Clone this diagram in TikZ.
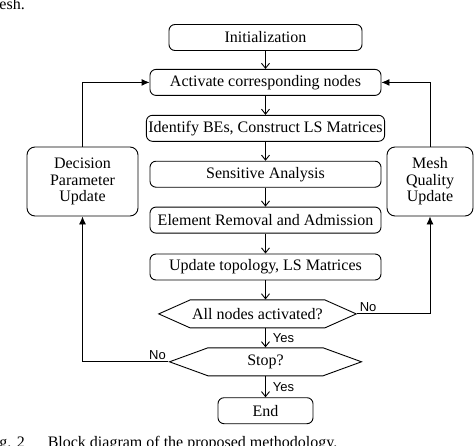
\documentclass[tikz,border=0pt]{standalone}
\usepackage{fontspec}
\setmainfont{Liberation Serif}
\newfontfamily\lblfont{Liberation Sans}
\usetikzlibrary{positioning,arrows.meta,shapes.symbols}

\begin{document}
\begin{tikzpicture}[
  x=1pt,y=1pt,
  line width=0.9pt,
  font=\fontsize{16}{16.5}\selectfont,
  node distance=19pt,
  b/.style={draw,rounded corners=6pt,align=center,minimum width=231pt,minimum height=26pt,inner ysep=2pt},
  s/.style={draw,rounded corners=8pt,align=center,minimum height=69pt,inner xsep=3pt},
  q/.style={draw,signal,signal to=west and east,minimum width=192pt,minimum height=28pt,inner xsep=2pt,inner ysep=2pt},
  a/.style={-{Straight Barb[length=5pt,width=8pt]}},
  l/.style={-{Latex[length=8pt,width=7pt]}},
  lab/.style={font=\lblfont\fontsize{13}{13}\selectfont,inner sep=2pt},
]
  \useasboundingbox (0,0) rectangle (474,-445);

  \node[b,minimum width=193pt] (init) at (265.5,-37.5) {Initialization};
  \node[b,below=18pt of init] (act) {Activate corresponding nodes};
  \node[b,below=of act,inner xsep=2pt] (ident) {Identify BEs, Construct LS Matrices};
  \node[b,below=of ident] (sens) {Sensitive Analysis};
  \node[b,below=of sens]  (elem) {Element Removal and Admission};
  \node[b,below=20pt of elem] (upd) {Update topology, LS Matrices};
  \node[q,signal pointer angle=48,below=of upd,xshift=-8pt] (alln) {All nodes activated?};
  \node[q,signal pointer angle=40,below=of alln,xshift=8pt] (stop) {Stop?};
  \node[b,below=21pt of stop,minimum width=95pt] (end) {End};

  \node[s,minimum width=111pt] (dec)  at (82.5,-181.5) {Decision\\Parameter\\Update};
  \node[s,minimum width=86pt]  (mesh) at (430,-181.5)  {Mesh\\Quality\\Update};

  \draw[a] (init.south)--(act.north);
  \draw[a] (act.south)--(ident.north);
  \draw[a] (ident.south)--(sens.north);
  \draw[a] (sens.south)--(elem.north);
  \draw[a] (elem.south)--(upd.north);
  \draw[a] (upd.south)--(upd.south |- alln.north);
  \draw[a] (stop.north |- alln.south)--(stop.north) node[lab,midway,right=5pt] {Yes};
  \draw[a] (stop.south)--(end.north) node[lab,midway,right=5pt] {Yes};

  % feedback loops
  \draw[l] (stop.west) node[lab,above left] {No} -| (dec.south);
  \draw[l] (dec.north) |- (act.west);
  \draw[l] (alln.east) node[lab,above right] {No} -| (mesh.south);
  \draw[l] (mesh.north) |- (act.east);

  \node[anchor=base west,inner sep=0] (top) at (-1,-9) {esh.};
  \node[anchor=base west,inner sep=0] (cap) at (-1,-447) {g. 2\hspace{23pt}Block diagram of the proposed methodology.};
\end{tikzpicture}
\end{document}
